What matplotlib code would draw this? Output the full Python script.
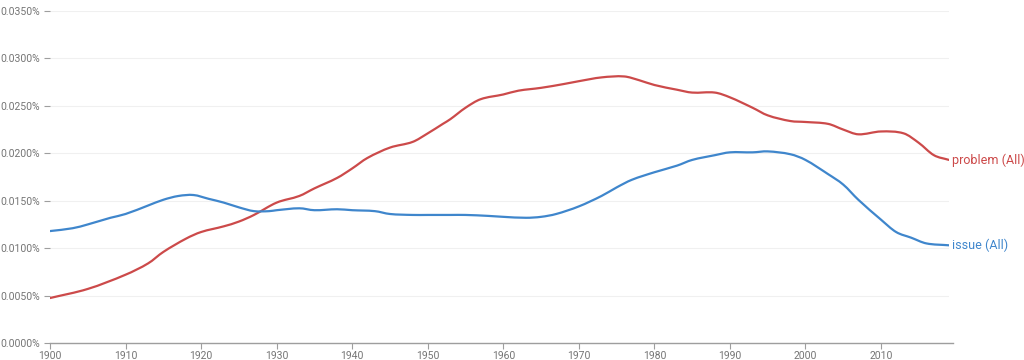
import matplotlib
matplotlib.use("Agg")
import matplotlib.pyplot as plt
from matplotlib.ticker import FuncFormatter
from matplotlib.path import Path
from matplotlib.patches import PathPatch

problem_years = [1900, 1905, 1910, 1913, 1915, 1918, 1920, 1923, 1925, 1927, 1930, 1933, 1935,
                 1938, 1940, 1942, 1945, 1948, 1950, 1952, 1953, 1955, 1957, 1960, 1962, 1965,
                 1968, 1970, 1973, 1976, 1978, 1980, 1983, 1985, 1988, 1990, 1993, 1995, 1998,
                 2000, 2003, 2005, 2007, 2010, 2013, 2015, 2017, 2019]
problem_vals = [0.00474, 0.0057, 0.0072, 0.0084, 0.0096, 0.0110, 0.0117, 0.0123, 0.0128, 0.0135,
                0.0148, 0.0155, 0.0163, 0.0174, 0.0184, 0.0195, 0.0206, 0.0212, 0.0221, 0.0231,
                0.0236, 0.0248, 0.0257, 0.0262, 0.0266, 0.0269, 0.0273, 0.0276, 0.0280, 0.0281,
                0.0277, 0.0272, 0.0267, 0.0264, 0.0264, 0.0259, 0.0248, 0.0240, 0.0234, 0.0233,
                0.0231, 0.0225, 0.0220, 0.0223, 0.0221, 0.0211, 0.0198, 0.0193]

issue_years = [1900, 1903, 1905, 1908, 1910, 1913, 1915, 1917, 1919, 1921, 1923, 1925, 1927,
               1929, 1930, 1933, 1935, 1938, 1940, 1943, 1945, 1948, 1950, 1953, 1955, 1958,
               1960, 1963, 1965, 1967, 1970, 1973, 1975, 1977, 1980, 1983, 1985, 1988, 1990,
               1993, 1995, 1998, 2000, 2003, 2005, 2007, 2010, 2012, 2014, 2016, 2019]
issue_vals = [0.0118, 0.0121, 0.0125, 0.0132, 0.0136, 0.0145, 0.0151, 0.0155, 0.0156, 0.0152,
              0.0148, 0.0143, 0.0139, 0.0139, 0.0140, 0.0142, 0.0140, 0.0141, 0.0140, 0.0139,
              0.0136, 0.0135, 0.0135, 0.0135, 0.0135, 0.0134, 0.0133, 0.0132, 0.0133, 0.0136,
              0.0144, 0.0155, 0.0164, 0.0172, 0.0180, 0.0187, 0.0193, 0.0198, 0.0201, 0.0201,
              0.0202, 0.0199, 0.0193, 0.0178, 0.0167, 0.0151, 0.0130, 0.0117, 0.0111, 0.0105,
              0.0103]

x_ticks = [1900, 1910, 1920, 1930, 1940, 1950, 1960, 1970, 1980, 1990, 2000, 2010]
y_ticks = [0.0, 0.005, 0.010, 0.015, 0.020, 0.025, 0.030, 0.035]
labels = ["problem (All)", "issue (All)"]

RED = "#cc4a4a"
BLUE = "#3f86cc"
GRAY = "#757575"


def smooth_path(xs, ys):
    """Catmull-Rom curve through the data points, as cubic Bezier segments."""
    verts = [(xs[0], ys[0])]
    codes = [Path.MOVETO]
    n = len(xs)
    for i in range(n - 1):
        x0, y0 = (xs[i - 1], ys[i - 1]) if i > 0 else (xs[i], ys[i])
        x1, y1 = xs[i], ys[i]
        x2, y2 = xs[i + 1], ys[i + 1]
        x3, y3 = (xs[i + 2], ys[i + 2]) if i + 2 < n else (xs[i + 1], ys[i + 1])
        d1 = x2 - x1
        m1 = (y2 - y0) / (x2 - x0) if x2 != x0 else 0
        m2 = (y3 - y1) / (x3 - x1) if x3 != x1 else 0
        verts += [(x1 + d1 / 3, y1 + m1 * d1 / 3), (x2 - d1 / 3, y2 - m2 * d1 / 3), (x2, y2)]
        codes += [Path.CURVE4] * 3
    return Path(verts, codes)


fig = plt.figure(figsize=(10.24, 3.6), dpi=100)
ax = fig.add_axes([50 / 1024, 17 / 360, 899 / 1024, 332 / 360])

for xs, ys, c in [(problem_years, problem_vals, RED), (issue_years, issue_vals, BLUE)]:
    ax.add_patch(PathPatch(smooth_path(xs, ys), facecolor="none", edgecolor=c, lw=1.6,
                           capstyle="round", joinstyle="round"))

ax.set_xlim(1900, 2019)
ax.set_ylim(0, 0.035)
ax.set_xticks(x_ticks)
ax.set_yticks(y_ticks)
ax.yaxis.set_major_formatter(FuncFormatter(lambda v, p: f"{v:.4f}%"))

ax.grid(axis="y", color="#f0f0f0", lw=0.8)
ax.set_axisbelow(True)
for s in ["top", "right", "left"]:
    ax.spines[s].set_visible(False)
ax.spines["bottom"].set_color("#9e9e9e")
ax.spines["bottom"].set_linewidth(1.0)
ax.spines["bottom"].set_bounds(1900, 2019.5)

ax.tick_params(axis="y", length=4, width=0.8, color="#9e9e9e", pad=3, labelsize=7.5, labelcolor=GRAY)
ax.tick_params(axis="x", length=4, width=0.8, color="#9e9e9e", pad=2, labelsize=7.5, labelcolor=GRAY)
for t in ax.get_yticklabels() + ax.get_xticklabels():
    t.set_fontfamily("Roboto")

ax.text(2019.4, problem_vals[-1], labels[0], color=RED, fontsize=9, va="center", ha="left",
        fontfamily="Roboto", clip_on=False)
ax.text(2019.4, issue_vals[-1], labels[1], color=BLUE, fontsize=9, va="center", ha="left",
        fontfamily="Roboto", clip_on=False)

fig.savefig("out.png", dpi=100)
